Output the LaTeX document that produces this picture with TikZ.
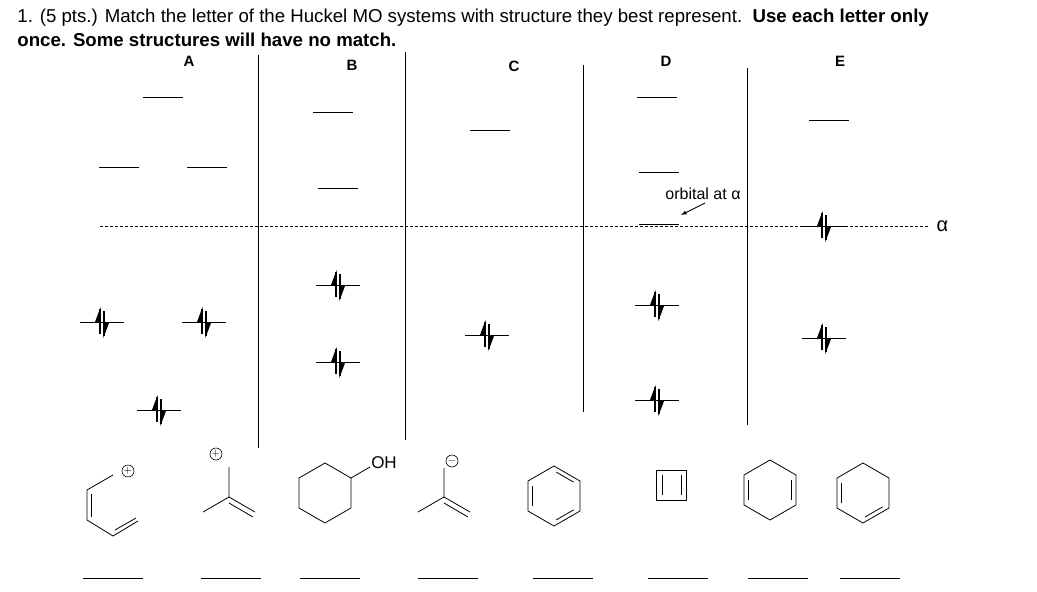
\documentclass[tikz,border=0pt]{standalone}
\usepackage{fontspec}
\setmainfont{Liberation Sans}
\usetikzlibrary{calc}
\newcommand{\epair}[2]{%
 \draw (#1-22,#2)--(#1+22,#2);
 \draw[line width=1.2pt] (#1-2,#2+12)--(#1-2,#2-13);
 \fill (#1-1.4,#2-15)--(#1-1.4,#2)--(#1-7,#2)--cycle;
 \draw[line width=1.2pt] (#1+2,#2-11)--(#1+2,#2+14);
 \fill (#1+1.4,#2+16)--(#1+1.4,#2+1)--(#1+7,#2+1)--cycle;}
\newcommand{\lvl}[2]{\draw (#1-20,#2)--(#1+20,#2);}
\newcommand{\dbl}[3]{\draw ($($(#1)!.1!(#2)$)!.16!(#3)$)--($($(#2)!.1!(#1)$)!.16!(#3)$);}
\newcommand{\hexa}[3]{% name, cx, cy
 \foreach \i/\a in {1/-90,2/-30,3/30,4/90,5/150,6/210} \coordinate (#1\i) at ($(#2,#3)+(\a:30)$);
 \coordinate (#1c) at (#2,#3);
 \draw (#11)--(#12)--(#13)--(#14)--(#15)--(#16)--cycle;}
\begin{document}
\begin{tikzpicture}[x=1pt,y=-1pt,line width=0.8pt,
 lbl/.style={font=\bfseries\fontsize{15}{15}\selectfont},
 chg/.style={circle,draw,line width=0.6pt,inner sep=0pt,minimum size=12pt,font=\fontsize{11}{11}\selectfont}]
\useasboundingbox (0,0) rectangle (1037,592);
\node[anchor=west,font=\fontsize{18.65}{20}\selectfont,inner sep=0pt] (t1) at (17,18) {1. (5 pts.) Match the letter of the Huckel MO systems with structure they best represent.\ \ \textbf{Use each letter only}};
\node[anchor=west,font=\bfseries\fontsize{18.65}{20}\selectfont,inner sep=0pt] (t2) at (17,40) {once. Some structures will have no match.};
\node[lbl] (A) at (189,61) {A};
\node[lbl] (B) at (352,65) {B};
\node[lbl] (C) at (514,66) {C};
\node[lbl] (D) at (666,61) {D};
\node[lbl] (E) at (840,61) {E};
\draw (258,55)--(258,448);
\draw (405,52)--(405,440);
\draw (583,65)--(583,412);
\draw (747,68)--(747,425);
\draw[line width=0.6pt,dash pattern=on 3pt off 2pt] (100,226)--(930,226);
\node[anchor=west,font=\fontsize{20}{20}\selectfont] (al) at (933,226) {α};
% A
\lvl{163}{97}\lvl{119}{167}\lvl{207}{167}
\epair{102}{322}\epair{204}{322}\epair{159}{410}
% B
\lvl{333}{112}\lvl{338}{188}
\epair{338}{285}\epair{338}{362}
% C
\lvl{490}{130}\epair{487}{335}
% D
\lvl{657}{97}\lvl{659}{172}\lvl{659}{224}
\node[font=\fontsize{16}{16}\selectfont] (orb) at (703,194) {orbital at α};
\draw[-latex,line width=0.9pt] (705,203)--(681,215);
\epair{657}{305}\epair{657}{400}
% E
\lvl{829}{120}\epair{824}{226}\epair{824}{338}
% answer lines
\foreach \a in {83,201,300,418,533,648,748,840} \draw (\a,578)--(\a+60,578);
% allyl cation
\coordinate (p1) at (113,475);\coordinate (p2) at (87,490);\coordinate (p3) at (87,520);\coordinate (p4) at (113,536);\coordinate (p5) at (138,521);
\draw (p1)--(p2)--(p3)--(p4)--(p5);
\draw (91,494)--(91,517);
\draw (115,530)--(136,518);
\node[chg] (c1) at (128,471) {$+$};
% isobutenyl cation
\coordinate (q0) at (229,497);
\draw (229,467)--(q0)--(203,512);\draw (q0)--(255,512);\draw (229,503)--(253,517);
\node[chg] (c2) at (216,454) {$+$};
% cyclohexanol
\hexa{h}{325}{493}
\draw (h2)--(370,467);
\node[font=\fontsize{17}{17}\selectfont] (oh) at (384,463) {OH};
% enolate
\coordinate (r0) at (444,497);
\draw (444,468)--(r0)--(418,512);\draw (r0)--(470,512);\draw (444,503)--(468,517);
\node[chg] (c3) at (452,461) {$-$};
% benzene
\hexa{b}{554}{496}
\dbl{b5}{b6}{bc}\dbl{b3}{b4}{bc}\dbl{b1}{b2}{bc}
% cyclobutadiene
\draw (656,470) rectangle (686,500);
\draw (662,475)--(662,495);\draw (681,475)--(681,495);
% 1,4-cyclohexadiene
\hexa{x}{770}{490}
\dbl{x5}{x6}{xc}\dbl{x2}{x3}{xc}
% 1,3-cyclohexadiene
\hexa{y}{863}{493}
\dbl{y5}{y6}{yc}\dbl{y3}{y4}{yc}
\end{tikzpicture}
\end{document}
